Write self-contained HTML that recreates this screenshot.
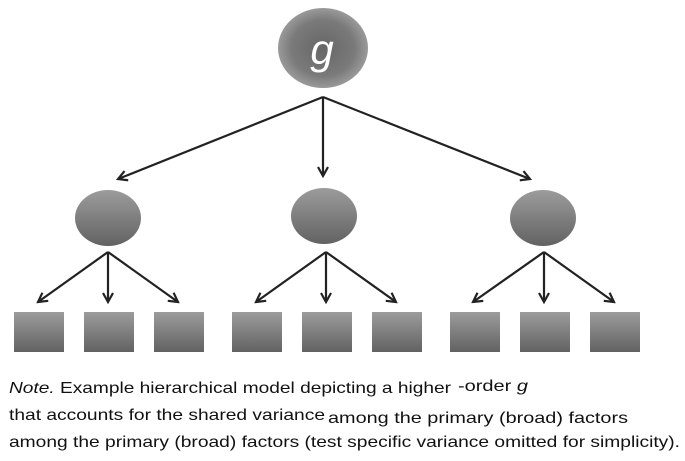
<!DOCTYPE html>
<html><head><style>html,body{margin:0;padding:0;background:#fff}svg{display:block}</style></head>
<body>
<svg width="685" height="461" viewBox="0 0 685 461" xmlns="http://www.w3.org/2000/svg">
<defs>
<radialGradient id="rg" cx="50%" cy="50%" r="50%"><stop offset="0" stop-color="#666"/><stop offset="0.7" stop-color="#7a7a7a"/><stop offset="1" stop-color="#9a9a9a"/></radialGradient>
<linearGradient id="lg" x1="0" y1="0" x2="0" y2="1"><stop offset="0" stop-color="#9c9c9c"/><stop offset="1" stop-color="#626262"/></linearGradient>
<marker id="ah" markerWidth="12" markerHeight="12" refX="10" refY="6" orient="auto" markerUnits="userSpaceOnUse"><path d="M1,1 L10,6 L1,11" fill="none" stroke="#222" stroke-width="2.2"/></marker>
</defs>
<ellipse cx="323" cy="48" rx="45" ry="40" fill="url(#rg)"/>
<text x="322" y="64" font-family="Liberation Sans, sans-serif" font-style="italic" font-size="42" fill="#fff" text-anchor="middle">g</text>
<g stroke="#222" stroke-width="2.2" fill="none" marker-end="url(#ah)">
<line x1="323" y1="97" x2="118" y2="179"/>
<line x1="323" y1="97" x2="323" y2="176"/>
<line x1="323" y1="97" x2="530" y2="179"/>
<line x1="108" y1="252" x2="38" y2="302"/>
<line x1="108" y1="252" x2="108" y2="302"/>
<line x1="108" y1="252" x2="178" y2="302"/>
<line x1="326" y1="252" x2="256" y2="302"/>
<line x1="326" y1="252" x2="326" y2="302"/>
<line x1="326" y1="252" x2="396" y2="302"/>
<line x1="544" y1="252" x2="473" y2="302"/>
<line x1="544" y1="252" x2="544" y2="302"/>
<line x1="544" y1="252" x2="614" y2="302"/>
</g>
<ellipse cx="108" cy="218" rx="33" ry="28" fill="url(#lg)"/>
<ellipse cx="324" cy="216" rx="33" ry="28" fill="url(#lg)"/>
<ellipse cx="543" cy="218" rx="33" ry="28" fill="url(#lg)"/>
<g fill="url(#lg)">
<rect x="14" y="312" width="50" height="40"/><rect x="84" y="312" width="50" height="40"/><rect x="154" y="312" width="50" height="40"/>
<rect x="232" y="312" width="50" height="40"/><rect x="302" y="312" width="50" height="40"/><rect x="372" y="312" width="50" height="40"/>
<rect x="450" y="312" width="50" height="40"/><rect x="520" y="312" width="50" height="40"/><rect x="590" y="312" width="50" height="40"/>
</g>
<g font-family="Liberation Sans, sans-serif" font-size="16" fill="#111">
<text x="9" y="393" textLength="442" lengthAdjust="spacingAndGlyphs"><tspan font-style="italic">Note.</tspan> Example hierarchical model depicting a higher</text>
<text x="458" y="391" textLength="70" lengthAdjust="spacingAndGlyphs">-order <tspan font-style="italic">g</tspan></text>
<text x="9" y="420" textLength="316" lengthAdjust="spacingAndGlyphs">that accounts for the shared variance</text>
<text x="328" y="423" textLength="300" lengthAdjust="spacingAndGlyphs">among the primary (broad) factors</text>
<text x="9" y="447" textLength="671" lengthAdjust="spacingAndGlyphs">among the primary (broad) factors (test specific variance omitted for simplicity).</text>
</g>
</svg>
</body></html>
